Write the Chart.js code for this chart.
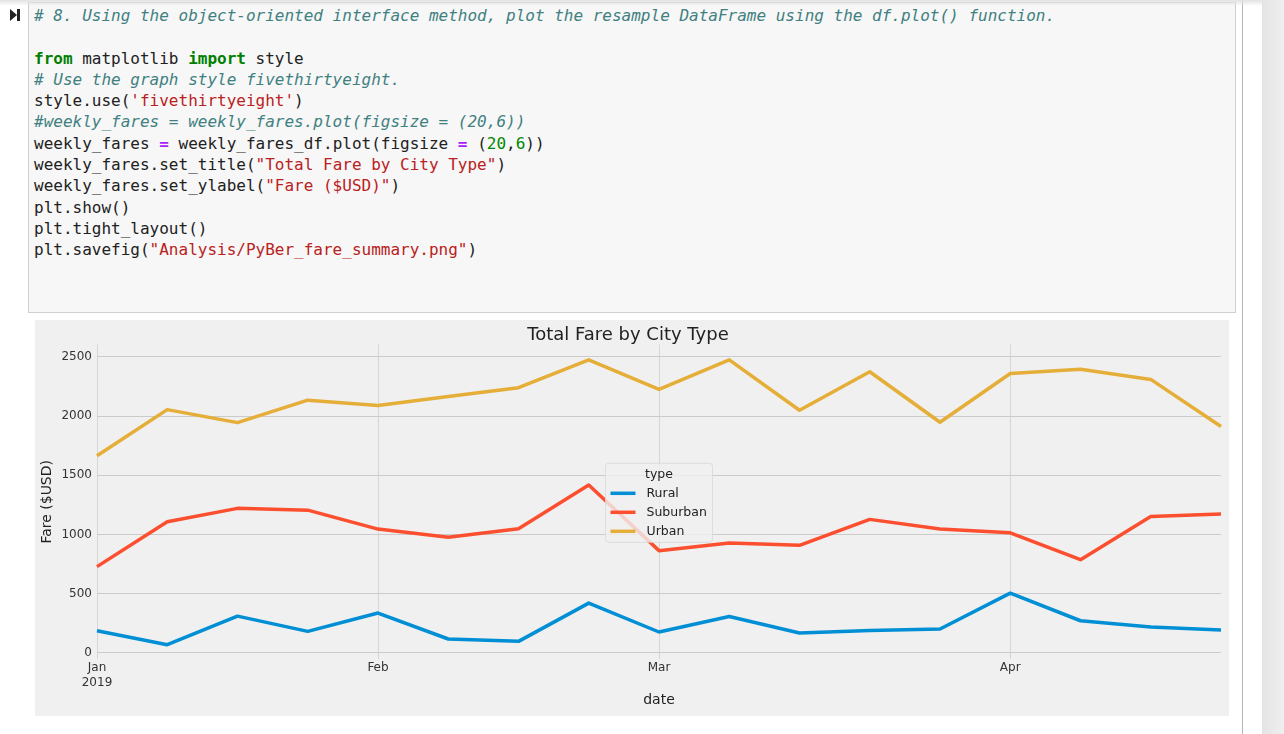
<!DOCTYPE html>
<html>
<head>
<meta charset="utf-8">
<script src="https://cdn.jsdelivr.net/npm/chart.js@4/dist/chart.umd.min.js"></script>
<style>
  body { margin: 0; background: #fff; width: 1284px; height: 734px; overflow: hidden; position: relative; font-family: "DejaVu Sans", sans-serif; }
  .topShade { position: absolute; left: 0; top: 0; width: 1262px; height: 6px; background: linear-gradient(#e2e2e2, rgba(255,255,255,0)); z-index: 2; }
  .marker { position: absolute; left: 10px; top: 9px; width: 0; height: 0; border-top: 6px solid transparent; border-bottom: 6px solid transparent; border-left: 7px solid #222; }
  .markerBar { position: absolute; left: 17px; top: 9px; width: 3px; height: 12px; background: #222; }
  .cell { position: absolute; left: 28px; top: 2px; width: 1206px; height: 309px; background: #f7f7f7; border: 1px solid #cfcfcf; }
  pre { position: absolute; left: 34px; top: 5px; margin: 0; font-family: "DejaVu Sans Mono", monospace; font-size: 16px; line-height: 21.3px; color: #212121; }
  .c { color: #408080; font-style: italic; }
  .k { color: #008000; font-weight: bold; }
  .s { color: #ba2121; }
  .o { color: #aa22ff; font-weight: bold; }
  .n { color: #008800; }
  .sideLine { position: absolute; left: 1242px; top: 0; width: 1px; height: 734px; background: #b5b5b5; }
  .scroll { position: absolute; left: 1262px; top: 0; width: 22px; height: 734px; background: linear-gradient(90deg, #e4e4e4, #efefef); }
  #chartBox { position: absolute; left: 35px; top: 320px; width: 1194px; height: 396px; background: #f0f0f0; }
</style>
</head>
<body>
<div class="topShade"></div>
<div class="marker"></div><div class="markerBar"></div>
<div class="cell"></div>
<pre><span class="c"># 8. Using the object-oriented interface method, plot the resample DataFrame using the df.plot() function.</span>

<span class="k">from</span> matplotlib <span class="k">import</span> style
<span class="c"># Use the graph style fivethirtyeight.</span>
style.use(<span class="s">'fivethirtyeight'</span>)
<span class="c">#weekly_fares = weekly_fares.plot(figsize = (20,6))</span>
weekly_fares <span class="o">=</span> weekly_fares_df.plot(figsize <span class="o">=</span> (<span class="n">20</span>,<span class="n">6</span>))
weekly_fares.set_title(<span class="s">"Total Fare by City Type"</span>)
weekly_fares.set_ylabel(<span class="s">"Fare ($USD)"</span>)
plt.show()
plt.tight_layout()
plt.savefig(<span class="s">"Analysis/PyBer_fare_summary.png"</span>)</pre>
<div class="sideLine"></div>
<div class="scroll"></div>
<div id="chartBox"><canvas id="Chart"></canvas></div>

<script>
// weekly periods (W-SUN), one per point
const weeks = ["2019-01-06", "2019-01-13", "2019-01-20", "2019-01-27", "2019-02-03", "2019-02-10",
    "2019-02-17", "2019-02-24", "2019-03-03", "2019-03-10", "2019-03-17", "2019-03-24",
    "2019-03-31", "2019-04-07", "2019-04-14", "2019-04-21", "2019-04-28"];

const rural = [188, 70, 311, 182, 337, 118, 98, 421, 177, 308, 168, 190, 202, 505, 272, 219, 194];
const suburban = [729, 1108, 1221, 1206, 1046, 977, 1049, 1419, 864, 928, 909, 1128, 1046, 1015, 788, 1153, 1173];
const urban = [1665, 2055, 1945, 2135, 2090, 2165, 2240, 2475, 2225, 2475, 2050, 2375, 1948, 2360, 2395, 2310, 1912];

const seriesNames = ["Rural", "Suburban", "Urban"];
const seriesColors = ["#008fd5", "#fc4f30", "#e5ae38"];

// month ticks sit on the first week of each month
const monthTickIdx = [0, 4, 8, 13];
const monthLabels = [["Jan", "2019"], "Feb", "Mar", "Apr"];
const yTicks = [0, 500, 1000, 1500, 2000, 2500];

const font = "DejaVu Sans";

// matplotlib style legend, centred in the plot area
const centerLegend = {
    id: "centerLegend",
    afterDatasetsDraw(chart) {
        const ctx = chart.ctx;
        const area = chart.chartArea;
        const w = 107, h = 79;
        const left = (area.left + area.right) / 2 - w / 2;
        const top = (area.top + area.bottom) / 2 - h / 2 + 1;
        ctx.save();
        ctx.beginPath();
        ctx.roundRect(left, top, w, h, 3);
        ctx.fillStyle = "rgba(240,240,240,0.8)";
        ctx.fill();
        ctx.strokeStyle = "rgba(215,215,215,0.8)";
        ctx.lineWidth = 1;
        ctx.stroke();
        ctx.font = "12.5px '" + font + "'";
        ctx.fillStyle = "#222";
        ctx.textBaseline = "middle";
        ctx.textAlign = "center";
        ctx.fillText("type", left + w / 2, top + 11);
        ctx.textAlign = "left";
        chart.data.datasets.forEach((ds, i) => {
            const y = top + 30 + i * 19;
            ctx.strokeStyle = ds.borderColor;
            ctx.lineWidth = 3.5;
            ctx.beginPath();
            ctx.moveTo(left + 5, y);
            ctx.lineTo(left + 30, y);
            ctx.stroke();
            ctx.fillText(ds.label, left + 41, y);
        });
        ctx.restore();
    }
};

const datasets = [rural, suburban, urban].map((vals, i) => ({
    label: seriesNames[i],
    data: vals,
    borderColor: seriesColors[i],
    backgroundColor: seriesColors[i],
    borderWidth: 3.5,
    pointRadius: 0,
    borderJoinStyle: "round",
    tension: 0
}));

new Chart(document.getElementById("Chart"), {
    type: "line",
    data: { labels: weeks, datasets: datasets },
    options: {
        responsive: true,
        maintainAspectRatio: false,
        animation: false,
        layout: { padding: { left: 0, right: 8, top: 0, bottom: 0 } },
        plugins: {
            legend: { display: false },
            tooltip: { enabled: false },
            title: {
                display: true,
                text: "Total Fare by City Type",
                color: "#222",
                font: { family: font, size: 18, weight: "normal" },
                padding: { top: 5, bottom: -2 }
            }
        },
        scales: {
            x: {
                type: "category",
                offset: false,
                border: { display: false },
                grid: { color: "#d6d6d6", lineWidth: 1, drawTicks: false },
                ticks: {
                    autoSkip: false,
                    maxRotation: 0,
                    padding: 2,
                    color: "#333",
                    font: { family: font, size: 12 },
                    callback: (val, i) => {
                        const k = monthTickIdx.indexOf(i);
                        return k >= 0 ? monthLabels[k] : null;
                    }
                },
                title: { display: true, text: "date", color: "#222", font: { family: font, size: 14 }, padding: 7 },
                afterFit: scale => { scale.height = 57; }
            },
            y: {
                min: -51,
                max: 2604,
                border: { display: false },
                grid: { color: "#cbcbcb", lineWidth: 1, drawTicks: false },
                ticks: {
                    padding: 5,
                    color: "#333",
                    font: { family: font, size: 12 },
                    callback: value => String(value)
                },
                afterBuildTicks: scale => { scale.ticks = yTicks.map(v => ({ value: v })); },
                title: { display: true, text: "Fare ($USD)", color: "#222", font: { family: font, size: 14 }, padding: 4 },
                afterFit: scale => { scale.width = 62; }
            }
        }
    },
    plugins: [centerLegend]
});
</script>
</body>
</html>
